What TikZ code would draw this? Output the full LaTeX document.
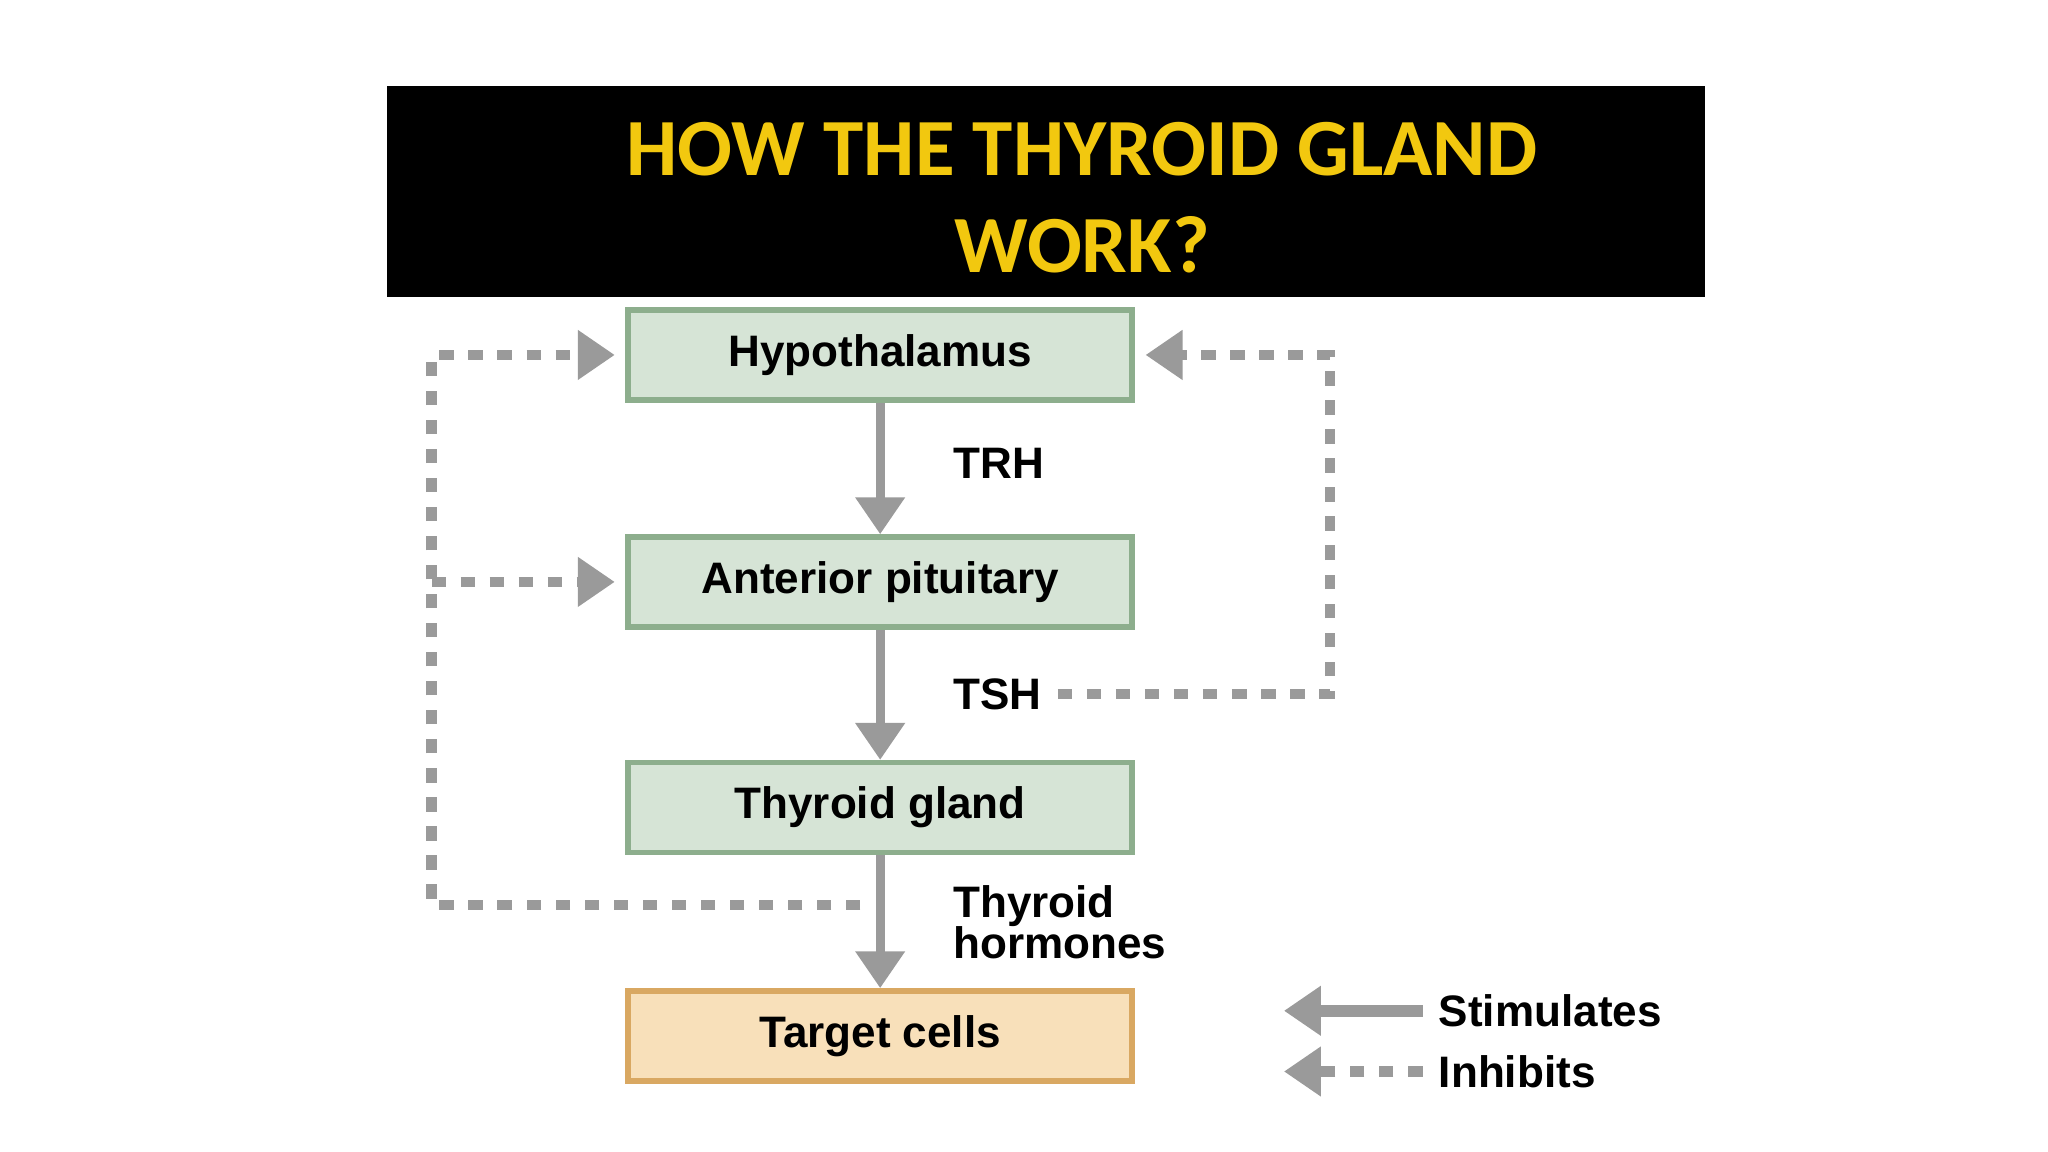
\documentclass[tikz,border=0pt]{standalone}
\usepackage{fontspec}
\setmainfont{Liberation Sans}
\newfontfamily\titlefont{Carlito}
\usetikzlibrary{arrows.meta,positioning}
\definecolor{boxgreen}{HTML}{D6E4D6}
\definecolor{edgegreen}{HTML}{8DAE8D}
\definecolor{boxtan}{HTML}{F8E0BA}
\definecolor{edgetan}{HTML}{D9A862}
\definecolor{flowgray}{HTML}{9A9A9A}
\definecolor{titleyellow}{HTML}{F2C80F}
\begin{document}
\begin{tikzpicture}[x=1cm,y=1cm,
    organ/.style={draw=edgegreen, fill=boxgreen, line width=1.2pt, minimum width=3.82cm, minimum height=0.68cm, font=\bfseries\fontsize{9.5}{11}\selectfont},
    stim/.style={draw=flowgray, line width=2pt, -{Triangle[length=0.28cm,width=0.36cm]}},
    inhib/.style={draw=flowgray, line width=2.2pt, dash pattern=on 0.11cm off 0.11cm, -{Triangle[length=0.28cm,width=0.36cm]}},
    lbl/.style={font=\bfseries\fontsize{9.5}{11}\selectfont, anchor=west, align=left}]
        % Canvas
        \useasboundingbox (0,0) rectangle (15.52,-8.73);
        
        % Title bar
        \fill[black] (2.93,-0.65) rectangle (12.92,-2.25);
        \node[text=titleyellow, font=\titlefont\bfseries\fontsize{17.5}{21}\selectfont, align=center] (title) at (8.2,-1.5) {HOW THE THYROID GLAND\\WORK?};
        
        % The four boxes of the chain
        \node[organ] (hypo) at (6.67,-2.69) {Hypothalamus};
        \node[organ] (ant) at (6.67,-4.41) {Anterior pituitary};
        \node[organ] (thy) at (6.67,-6.12) {Thyroid gland};
        \node[organ, draw=edgetan, fill=boxtan] (target) at (6.67,-7.85) {Target cells};
        
        % Stimulating hormones
        \draw[stim] (hypo) -- (ant);
        \draw[stim] (ant) -- (thy);
        \draw[stim] (thy) -- (target);
        \node[lbl] (trh) at (7.1,-3.51) {TRH};
        \node[lbl] (tsh) at (7.1,-5.26) {TSH};
        \node[lbl] (th) at (7.1,-6.99) {Thyroid\\[-2pt]hormones};
        
        % Feedback loops
        \coordinate (thout) at (6.52,-6.86);
        \coordinate (lcorner) at (3.27,-6.86);
        \coordinate (ltop) at (3.27,-2.69);
        \coordinate (lmid) at (3.27,-4.41);
        \draw[inhib] (thout) -- (lcorner) -- (ltop) -- ([xshift=-0.08cm]hypo.west);
        \draw[inhib] (lmid) -- ([xshift=-0.08cm]ant.west);
        \coordinate (rcorner) at (10.08,-5.26);
        \coordinate (rtop) at (10.08,-2.69);
        \draw[inhib] (tsh.east) -- (rcorner) -- (rtop) -- ([xshift=0.08cm]hypo.east);
        
        % Legend
        \node[lbl] (stimtext) at (10.78,-7.66) {Stimulates};
        \node[lbl] (inhibtext) at (10.78,-8.12) {Inhibits};
        \draw[stim, line width=2.6pt] (stimtext.west) -- ++(-1.05,0);
        \draw[inhib] (inhibtext.west) -- ++(-1.05,0);
      \end{tikzpicture}
\end{document}
